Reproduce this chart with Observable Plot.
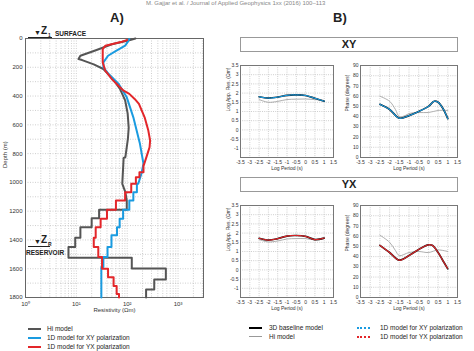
<!DOCTYPE html>
<html><head><meta charset="utf-8">
<script src="https://cdn.jsdelivr.net/npm/d3@7"></script>
<script src="https://cdn.jsdelivr.net/npm/@observablehq/plot@0.6"></script>
<style>
body{margin:0;background:#fff;}
#wrap{position:relative;width:474px;height:351px;overflow:hidden;font-family:"Liberation Sans",Arial,sans-serif;background:#fff;color:#222;}
.abs{position:absolute;white-space:nowrap;}
.leg{font-size:6.5px;line-height:7px;}
.box{position:absolute;border:1px solid #999;box-sizing:border-box;text-align:center;font-weight:bold;font-size:11px;}
</style></head><body><div id="wrap"></div>
<script>
// ---------- Panel A: depth (m) vs resistivity (Ohm m) ----------
const hiModel = [[0,145],[12,110],[40,50],[80,25],[120,12],[143,11],[150,13],[180,22],[212,34],[280,52],[350,72],[430,91],[520,102],[620,107],[700,103],[825,92],[830,85],[1010,80],[1068,92],[1126,98],[1190,98],[1190,28],[1250,28],[1250,20],[1311,20],[1311,12],[1384,12],[1384,9.5],[1449,9.5],[1449,7],[1523,7],[1523,123],[1599,123],[1599,575],[1675,575],[1675,340],[1745,340],[1745,235],[1800,235]];
const xyModel = [[4,110],[20,104],[50,91],[90,58],[120,42],[166,34],[201,34],[247,43],[316,68],[409,98],[548,132],[732,178],[871,209],[940,190],[1010,165],[1010,155],[1068,155],[1068,132],[1126,132],[1126,110],[1190,110],[1190,83],[1253,83],[1253,71],[1311,71],[1311,63],[1368,63],[1368,49],[1449,49],[1449,41],[1519,41],[1519,34],[1588,34],[1588,31],[1800,31]];
const yxModel = [[10,100],[25,75],[51,37],[74,33],[166,33],[224,37],[282,50],[330,68],[363,85],[385,110],[420,140],[455,170],[548,220],[640,260],[709,282],[756,275],[802,250],[880,212],[880,209],[929,209],[929,174],[964,174],[964,148],[1010,148],[1010,120],[1068,120],[1068,91],[1126,91],[1126,60],[1190,60],[1190,40],[1253,40],[1253,30],[1311,30],[1311,24],[1384,24],[1384,22],[1449,22],[1449,27],[1519,27],[1519,32],[1600,32],[1600,42],[1660,42],[1660,54],[1720,54],[1720,62],[1775,62],[1775,69],[1800,69]];
const depthTicks = [0,200,400,600,800,1000,1200,1400,1600,1800];
const resTicks = [1,10,100,1000];
const resTickLabels = ["10\u2070","10\u00B9","10\u00B2","10\u00B3"];
const legendA = [["Hi model","#555"],["1D model for XY polarization","#1a9be0"],["1D model for YX polarization","#e3262a"]];

// ---------- Panel B: log period vs log app. res / phase ----------
const periodTicks = [-3.5,-3,-2.5,-2,-1.5,-1,-0.5,0,0.5,1,1.5];
const resBTicks = [-1,-0.5,0,0.5,1,1.5,2,2.5,3,3.5];
const phaseTicks = [0,10,20,30,40,50,60,70,80,90];
const xyResBase = [[-2.5,1.8],[-2,1.73],[-1.5,1.78],[-1,1.88],[-0.5,1.9],[0,1.87],[0.5,1.72],[1,1.56]];
const xyRes1D   = [[-2.5,1.8],[-2,1.73],[-1.5,1.78],[-1,1.88],[-0.5,1.9],[0,1.87],[0.5,1.72],[1,1.56]];
const xyResHi   = [[-2.5,1.65],[-2,1.5],[-1.5,1.55],[-1,1.65],[-0.5,1.67],[0,1.68],[0.5,1.65],[1,1.6]];
const xyPhaBase = [[-2.5,52],[-2,47],[-1.5,38.5],[-1,41],[-0.5,45],[0,50],[0.3,55],[0.5,54],[0.75,48],[1,38]];
const xyPha1D   = [[-2.5,52],[-2,47],[-1.5,38.5],[-1,41],[-0.5,45],[0,50],[0.3,55],[0.5,54],[0.75,48],[1,38]];
const xyPhaHi   = [[-2.5,60],[-2,55],[-1.7,47],[-1.5,40],[-1.2,41],[-1,43],[-0.5,44],[0,44],[0.5,46],[1,46]];
const yxResBase = [[-2.5,1.72],[-2,1.62],[-1.5,1.7],[-1,1.84],[-0.5,1.87],[0,1.82],[0.5,1.65],[1,1.73]];
const yxRes1D   = [[-2.5,1.72],[-2,1.62],[-1.5,1.7],[-1,1.84],[-0.5,1.87],[0,1.82],[0.5,1.65],[1,1.73]];
const yxResHi   = [[-2.5,1.65],[-2,1.52],[-1.5,1.57],[-1,1.68],[-0.5,1.7],[0,1.7],[0.5,1.63],[1,1.7]];
const yxPhaBase = [[-2.5,51],[-2,44],[-1.5,36.5],[-1,41],[-0.5,47],[0,51.5],[0.2,51],[0.5,44],[0.75,36],[1,28]];
const yxPha1D   = [[-2.5,51],[-2,44],[-1.5,36.5],[-1,41],[-0.5,47],[0,51.5],[0.2,51],[0.5,44],[0.75,36],[1,28]];
const yxPhaHi   = [[-2.5,61],[-2,54],[-1.7,46],[-1.5,41],[-1,44],[-0.5,45],[0,44],[0.5,46.5],[1,45]];
const legendB = [["3D baseline model","#000",2,null],["Hi model","#999",1,null],["1D model for XY polarization","#1a9be0",2,"dotted"],["1D model for YX polarization","#e3262a",2,"dotted"]];

const wrap = document.getElementById("wrap");
function place(node, left, top){ node.style.position="absolute"; node.style.left=left+"px"; node.style.top=top+"px"; wrap.appendChild(node); return node; }
function html(tag, cls, text, left, top, extra){ const e=document.createElement(tag); if(cls) e.className=cls; e.textContent=text; e.style.left=left+"px"; e.style.top=top+"px"; if(extra) Object.assign(e.style, extra); e.classList.add("abs"); wrap.appendChild(e); return e; }

// header
html("div","", "M. Gajjar et al. / Journal of Applied Geophysics 1xx (2016) 100\u2013113", 146, 0, {fontSize:"6px", lineHeight:"6px", color:"#888"});
html("div","", "A)", 110, 10, {fontSize:"13px", fontWeight:"bold"});
html("div","", "B)", 333, 10, {fontSize:"13px", fontWeight:"bold"});

// ----- Panel A plot -----
const minorX = [];
for (let k=0;k<4;k++) for (let m=1;m<10;m++){ const v=m*10**k; if (v<=10**3.5) minorX.push(v); }
const get = (i) => (d) => d[i];
const plotA = Plot.plot({
  width:215, height:320, marginLeft:25, marginRight:12, marginTop:38, marginBottom:23,
  style:{fontFamily:"Liberation Sans, Arial, sans-serif", fontSize:"6px", color:"#333", background:"transparent", overflow:"visible"},
  x:{type:"log", domain:[1,10**3.5]},
  y:{domain:[0,1800], reverse:true},
  marks:[
    Plot.gridX(minorX, {stroke:"#bbb", strokeDasharray:"1,1.5", strokeOpacity:0.7}),
    Plot.gridY(d3.range(0,1801,100), {stroke:"#bbb", strokeDasharray:"1,1.5", strokeOpacity:0.7}),
    Plot.frame({stroke:"#666"}),
    Plot.axisX(resTicks, {tickSize:0, tickPadding:4, tickFormat:(d)=>resTickLabels[resTicks.indexOf(d)], label:null}),
    Plot.axisY(depthTicks, {tickSize:0, tickPadding:3, tickFormat:d=>String(d), label:null}),
    Plot.text(["Depth (m)"], {frameAnchor:"left", rotate:-90, dx:-20, fontSize:6}),
    Plot.text(["Resistivity (\u03A9m)"], {frameAnchor:"bottom", dy:14, fontSize:6}),
    Plot.line(hiModel, {x:get(1), y:get(0), stroke:"#555", strokeWidth:2}),
    Plot.line(xyModel, {x:get(1), y:get(0), stroke:"#1a9be0", strokeWidth:2}),
    Plot.line(yxModel, {x:get(1), y:get(0), stroke:"#e3262a", strokeWidth:2})
  ]
});
place(plotA, 0, 0);

// Z markers (HTML annotations)
function zMarker(left, top, sub, word, wordLeft, wordTop, lineW){
  html("div","", "\u25BC", left, top, {fontSize:"7px"});
  html("div","", "Z", left+7, top-4, {fontSize:"10px", fontWeight:"bold"});
  html("div","", sub, left+14, top+3, {fontSize:"5px", fontWeight:"bold"});
  const ln=document.createElement("div"); ln.className="abs"; Object.assign(ln.style,{left:(left-6)+"px", top:(top+8)+"px", width:lineW+"px", height:"0px", borderTop:"1px solid #222"}); wrap.appendChild(ln);
  html("div","", word, wordLeft, wordTop, {fontSize:"6.5px", fontWeight:"bold"});
}
zMarker(34, 29, "1", "SURFACE", 55, 30, 24);
zMarker(34, 238, "R", "RESERVOIR", 26, 249, 22);

// legend A
legendA.forEach(([t,c],i)=>{
  const y = 329 + i*9;
  const ln=document.createElement("div"); ln.className="abs"; Object.assign(ln.style,{left:"28px", top:(y-1)+"px", width:"13px", height:"0px", borderTop:"2px solid "+c}); wrap.appendChild(ln);
  html("div","leg", t, 47, y-4);
});

// ----- Panel B -----
html("div","box","XY",240,37,{width:"218px",height:"15px",lineHeight:"13px"});
html("div","box","YX",240,177,{width:"218px",height:"15px",lineHeight:"13px"});

function bPlot(left, top, kind, base, oneD, hi, color){
  const isRes = kind==="res";
  const W = isRes?118:125, H=120;
  const mL = isRes?18:20, mR = isRes?7:8;
  const p = Plot.plot({
    width:W, height:H, marginLeft:mL, marginRight:mR, marginTop:10, marginBottom:18,
    style:{fontFamily:"Liberation Sans, Arial, sans-serif", fontSize:"5px", color:"#333", background:"transparent", overflow:"visible"},
    x:{domain:[-3.5,1.5]},
    y:{domain: isRes?[-1.5,3.5]:[0,90]},
    marks:[
      Plot.gridX(periodTicks, {stroke:"#bbb", strokeDasharray:"1,1.2", strokeOpacity:0.7}),
      Plot.gridY(isRes?d3.range(-1.5,3.51,0.5):phaseTicks, {stroke:"#bbb", strokeDasharray:"1,1.2", strokeOpacity:0.7}),
      Plot.frame({stroke:"#777"}),
      Plot.axisX(periodTicks, {tickSize:0, tickPadding:3, tickFormat:d=>String(d), label:null}),
      Plot.axisY(isRes?resBTicks:phaseTicks, {tickSize:0, tickPadding:2, tickFormat:d=>String(d), label:null}),
      Plot.text(["Log Period (s)"], {frameAnchor:"bottom", dy:12, fontSize:5}),
      Plot.text([isRes?"Log App. Res. (\u03A9m)":"Phase (degrees)"], {frameAnchor:"left", rotate:-90, dx:isRes?-12:-13, fontSize:5}),
      Plot.line(hi, {x:get(0), y:get(1), stroke:"#999", strokeWidth:0.8, curve:"catmull-rom"}),
      Plot.line(base, {x:get(0), y:get(1), stroke:"#111", strokeWidth:1.7, curve:"catmull-rom"}),
      Plot.line(oneD, {x:get(0), y:get(1), stroke:color, strokeWidth:1.2, strokeDasharray:"1,1", curve:"catmull-rom"})
    ]
  });
  place(p, left, top);
}
bPlot(222, 55, "res", xyResBase, xyRes1D, xyResHi, "#1a9be0");
bPlot(340, 55, "pha", xyPhaBase, xyPha1D, xyPhaHi, "#1a9be0");
bPlot(222, 195, "res", yxResBase, yxRes1D, yxResHi, "#e3262a");
bPlot(340, 195, "pha", yxPhaBase, yxPha1D, yxPhaHi, "#e3262a");

// legend B
legendB.forEach(([t,c,w,dash],i)=>{
  const col = i<2?0:1;
  const y = 328 + (i%2)*9;
  const x0 = col? 357 : 249;
  const tx = col? 380 : 269;
  const ln=document.createElement("div"); ln.className="abs";
  Object.assign(ln.style,{left:x0+"px", top:(y-Math.round(w/2))+"px", width:"13px", height:"0px", borderTop:w+"px "+(dash?"dotted ":"solid ")+c});
  wrap.appendChild(ln);
  html("div","leg", t, tx, y-4);
});
</script></body></html>
